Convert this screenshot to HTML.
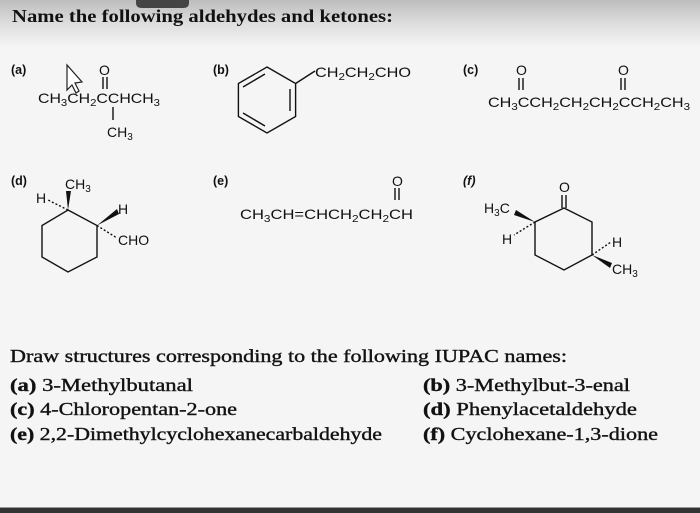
<!DOCTYPE html>
<html><head><meta charset="utf-8"><style>
html,body{margin:0;padding:0;width:700px;height:513px;overflow:hidden;background:#f5f5f5}
svg{display:block}
.s{font-family:"Liberation Sans",sans-serif;font-size:14px;fill:#111}
.l{font-family:"Liberation Sans",sans-serif;font-size:12.5px;font-weight:bold;fill:#111}
.t{font-family:"Liberation Serif",serif;fill:#111}
.sub{font-size:10px}
</style></head><body>
<svg width="700" height="513" viewBox="0 0 700 513" xmlns="http://www.w3.org/2000/svg">
<defs><linearGradient id="g" x1="0" y1="0" x2="0" y2="1">
<stop offset="0" stop-color="#bdbdbd"/><stop offset="0.5" stop-color="#dedede"/><stop offset="1" stop-color="#f5f5f5"/></linearGradient></defs>
<rect x="0" y="0" width="700" height="48" fill="url(#g)"/>
<path d="M136 0 H189 V3 Q189 8 183 8 H142 Q136 8 136 3 Z" fill="#444"/>
<text class="t" x="12" y="22" font-size="18" font-weight="bold" textLength="381" lengthAdjust="spacingAndGlyphs">Name the following aldehydes and ketones:</text>

<g stroke="#111" stroke-width="1.4" fill="none">
<line x1="103" y1="77" x2="103" y2="89"/><line x1="107" y1="77" x2="107" y2="89"/>
<line x1="113" y1="107" x2="113" y2="120"/>
<polygon points="267,67 295.6,83.5 295.6,116.5 267,133 238.4,116.5 238.4,83.5"/>
<line x1="243" y1="87" x2="265" y2="74"/><line x1="243" y1="113" x2="265" y2="126"/><line x1="290" y1="89" x2="290" y2="111"/>
<line x1="295.6" y1="83.5" x2="315" y2="71"/>
<line x1="519" y1="78" x2="519" y2="90"/><line x1="523" y1="78" x2="523" y2="90"/>
<line x1="621" y1="78" x2="621" y2="90"/><line x1="625" y1="78" x2="625" y2="90"/>
<polygon points="68,210 97,225.5 97,257 68,272 42,257 42,225.5"/>
<line x1="395" y1="188" x2="395" y2="200"/><line x1="399" y1="188" x2="399" y2="200"/>
<polygon points="564,208 592,222 592,255 564,270 535,255 535,222"/>
<line x1="562" y1="195" x2="562" y2="208"/><line x1="566" y1="195" x2="566" y2="208"/>
</g>
<polygon points="68,210 66,191 71,191" fill="#111"/>
<line x1="68" y1="210" x2="48" y2="200" stroke="#111" stroke-width="1.4" stroke-dasharray="2,2"/>
<polygon points="97,225.5 117,209 119,214" fill="#111"/>
<line x1="97" y1="225.5" x2="117" y2="238" stroke="#111" stroke-width="1.4" stroke-dasharray="2,2"/>
<polygon points="535,222 516,210 514,215" fill="#111"/>
<line x1="535" y1="222" x2="514" y2="235" stroke="#111" stroke-width="1.4" stroke-dasharray="2,2"/>
<line x1="592" y1="255" x2="611" y2="242" stroke="#111" stroke-width="1.4" stroke-dasharray="2,2"/>
<polygon points="592,255 612,263 610,268" fill="#111"/>
<path d="M67 65 L67 90 L72 85 L76 93 L79 91 L75 83 L82 82 Z" fill="#fff" stroke="#222" stroke-width="1.2"/>

<text class="l" x="11" y="74">(a)</text>
<text class="s" x="99" y="75">O</text>
<text class="s" x="38" y="103" textLength="122" lengthAdjust="spacingAndGlyphs">CH<tspan class="sub" dy="3">3</tspan><tspan dy="-3">CH</tspan><tspan class="sub" dy="3">2</tspan><tspan dy="-3">CCHCH</tspan><tspan class="sub" dy="3">3</tspan></text>
<text class="s" x="107" y="137">CH<tspan class="sub" dy="3">3</tspan></text>

<text class="l" x="213" y="74">(b)</text>
<text class="s" x="315" y="77" textLength="96" lengthAdjust="spacingAndGlyphs">CH<tspan class="sub" dy="3">2</tspan><tspan dy="-3">CH</tspan><tspan class="sub" dy="3">2</tspan><tspan dy="-3">CHO</tspan></text>

<text class="l" x="463" y="74">(c)</text>
<text class="s" x="516" y="75">O</text>
<text class="s" x="618" y="75">O</text>
<text class="s" x="488" y="107" textLength="202" lengthAdjust="spacingAndGlyphs">CH<tspan class="sub" dy="3">3</tspan><tspan dy="-3">CCH</tspan><tspan class="sub" dy="3">2</tspan><tspan dy="-3">CH</tspan><tspan class="sub" dy="3">2</tspan><tspan dy="-3">CH</tspan><tspan class="sub" dy="3">2</tspan><tspan dy="-3">CCH</tspan><tspan class="sub" dy="3">2</tspan><tspan dy="-3">CH</tspan><tspan class="sub" dy="3">3</tspan></text>

<text class="l" x="11" y="185">(d)</text>
<text class="s" x="65" y="189">CH<tspan class="sub" dy="3">3</tspan></text>
<text class="s" x="36" y="203">H</text>
<text class="s" x="118" y="214">H</text>
<text class="s" x="118" y="245">CHO</text>

<text class="l" x="213" y="185">(e)</text>
<text class="s" x="392" y="186">O</text>
<text class="s" x="240" y="219" textLength="173" lengthAdjust="spacingAndGlyphs">CH<tspan class="sub" dy="3">3</tspan><tspan dy="-3">CH=CHCH</tspan><tspan class="sub" dy="3">2</tspan><tspan dy="-3">CH</tspan><tspan class="sub" dy="3">2</tspan><tspan dy="-3">CH</tspan></text>

<text class="l" x="463" y="185" font-style="italic">(f)</text>
<text class="s" x="559" y="192">O</text>
<text class="s" x="484" y="213">H<tspan class="sub" dy="3">3</tspan><tspan dy="-3">C</tspan></text>
<text class="s" x="502" y="244">H</text>
<text class="s" x="612" y="247">H</text>
<text class="s" x="612" y="274">CH<tspan class="sub" dy="3">3</tspan></text>

<g class="t" font-size="18" fill="#1a1a1a" stroke="#1a1a1a" stroke-width="0.4">
<text x="10" y="362" textLength="557" lengthAdjust="spacingAndGlyphs">Draw structures corresponding to the following IUPAC names:</text>
<text x="10" y="391" textLength="183" lengthAdjust="spacingAndGlyphs"><tspan font-weight="bold">(a)</tspan> 3-Methylbutanal</text>
<text x="10" y="415" textLength="227" lengthAdjust="spacingAndGlyphs"><tspan font-weight="bold">(c)</tspan> 4-Chloropentan-2-one</text>
<text x="10" y="440" textLength="372" lengthAdjust="spacingAndGlyphs"><tspan font-weight="bold">(e)</tspan> 2,2-Dimethylcyclohexanecarbaldehyde</text>
<text x="423" y="391" textLength="207" lengthAdjust="spacingAndGlyphs"><tspan font-weight="bold">(b)</tspan> 3-Methylbut-3-enal</text>
<text x="423" y="415" textLength="214" lengthAdjust="spacingAndGlyphs"><tspan font-weight="bold">(d)</tspan> Phenylacetaldehyde</text>
<text x="423" y="440" textLength="235" lengthAdjust="spacingAndGlyphs"><tspan font-weight="bold">(f)</tspan> Cyclohexane-1,3-dione</text>
</g>
<rect x="0" y="508" width="700" height="5" fill="#333"/>
<rect x="0" y="507" width="700" height="1" fill="#999"/>
</svg>
</body></html>
